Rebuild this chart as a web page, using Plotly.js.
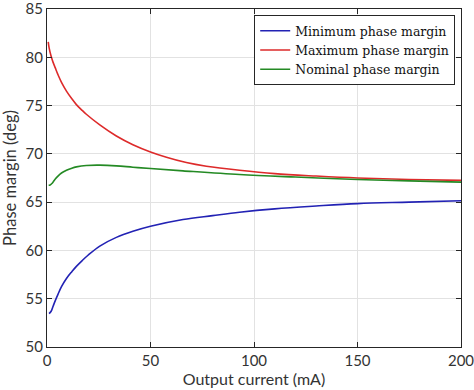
<!DOCTYPE html>
<html>
<head>
<meta charset="utf-8">
<script src="https://cdn.plot.ly/plotly-3.0.1.min.js"></script>
<style>html,body{margin:0;padding:0;background:#fff;}#chart{width:474px;height:390px;}</style>
</head>
<body>
<div id="chart"></div>
<script>
// Output current (mA) and phase margin (deg)
const minX = [1, 2, 2.9, 4, 5.3, 7, 9.4, 12, 14.2, 17, 19.8, 25.5, 33.5, 41.5, 50, 65.7, 80, 93, 110, 130, 150, 175, 200];
const minPM = [53.45, 53.7, 54.2, 54.8, 55.45, 56.25, 57.1, 57.8, 58.35, 58.95, 59.5, 60.45, 61.35, 61.98, 62.5, 63.2, 63.6, 63.95, 64.3, 64.6, 64.85, 65.0, 65.15];

const maxX = [0.6, 1, 2, 2.9, 4, 5.3, 7, 9.4, 12, 14.2, 17, 19, 25.5, 33.5, 41.5, 50, 57.7, 67.3, 77, 93, 110, 130, 150, 175, 200];
const maxPM = [81.6, 81.0, 80.1, 79.5, 78.9, 78.2, 77.4, 76.5, 75.7, 75.1, 74.5, 74.1, 73.0, 71.85, 70.95, 70.2, 69.65, 69.1, 68.72, 68.3, 67.95, 67.7, 67.5, 67.35, 67.25];

const nomX = [0.8, 1.5, 2.2, 2.9, 4, 5.3, 7, 9.4, 12, 14.2, 19, 25.5, 33.5, 41.5, 50, 65.7, 93, 120, 150, 175, 200];
const nomPM = [66.75, 66.78, 66.9, 67.07, 67.4, 67.7, 68.02, 68.3, 68.52, 68.65, 68.8, 68.83, 68.76, 68.62, 68.48, 68.24, 67.86, 67.6, 67.35, 67.2, 67.07];

const seriesNames = ['Minimum phase margin', 'Maximum phase margin', 'Nominal phase margin'];
const xTicks = [0, 50, 100, 150, 200];
const yTicks = [50, 55, 60, 65, 70, 75, 80, 85];

const colors = ['#2222b4', '#dd2a2a', '#248a24'];
const xs = [minX, maxX, nomX];
const ys = [minPM, maxPM, nomPM];

const traces = seriesNames.map((n, i) => ({
  x: xs[i], y: ys[i], name: n, type: 'scatter', mode: 'lines',
  line: {color: colors[i], width: 1.6, shape: 'spline', smoothing: 1}
}));

const axisCommon = {
  showline: true, linecolor: '#262626', linewidth: 1, mirror: 'ticks',
  ticks: 'inside', ticklen: 5, tickcolor: '#262626', tickwidth: 1,
  showgrid: true, gridcolor: '#e2e2e2', gridwidth: 1, zeroline: false,
  ticklabeloverflow: 'allow',
  tickfont: {family: 'Lato, "Open Sans", sans-serif', size: 15, color: '#333333'}
};

const layout = {
  width: 474, height: 390,
  margin: {l: 47, r: 13, t: 9, b: 43},
  paper_bgcolor: '#ffffff', plot_bgcolor: '#ffffff',
  showlegend: true,
  xaxis: Object.assign({}, axisCommon, {
    range: [0, 200], tickvals: xTicks, ticktext: xTicks.map(String),
    title: {text: 'Output current (mA)', standoff: 4,
      font: {family: 'Lato, "Open Sans", sans-serif', size: 16, color: '#333333'}}
  }),
  yaxis: Object.assign({}, axisCommon, {
    range: [50, 85], tickvals: yTicks, ticktext: yTicks.map(String),
    title: {text: 'Phase margin (deg)', standoff: 6,
      font: {family: 'Lato, "Open Sans", sans-serif', size: 16.5, color: '#333333'}}
  }),
  legend: {
    x: 0.986, xanchor: 'right', y: 0.982, yanchor: 'top',
    bgcolor: '#ffffff', bordercolor: '#262626', borderwidth: 1,
    font: {family: '"DejaVu Serif", serif', size: 12.5, color: '#111111'},
    tracegroupgap: 0, itemwidth: 30
  }
};

Plotly.newPlot('chart', traces, layout, {displayModeBar: false, staticPlot: true});
</script>
</body>
</html>
